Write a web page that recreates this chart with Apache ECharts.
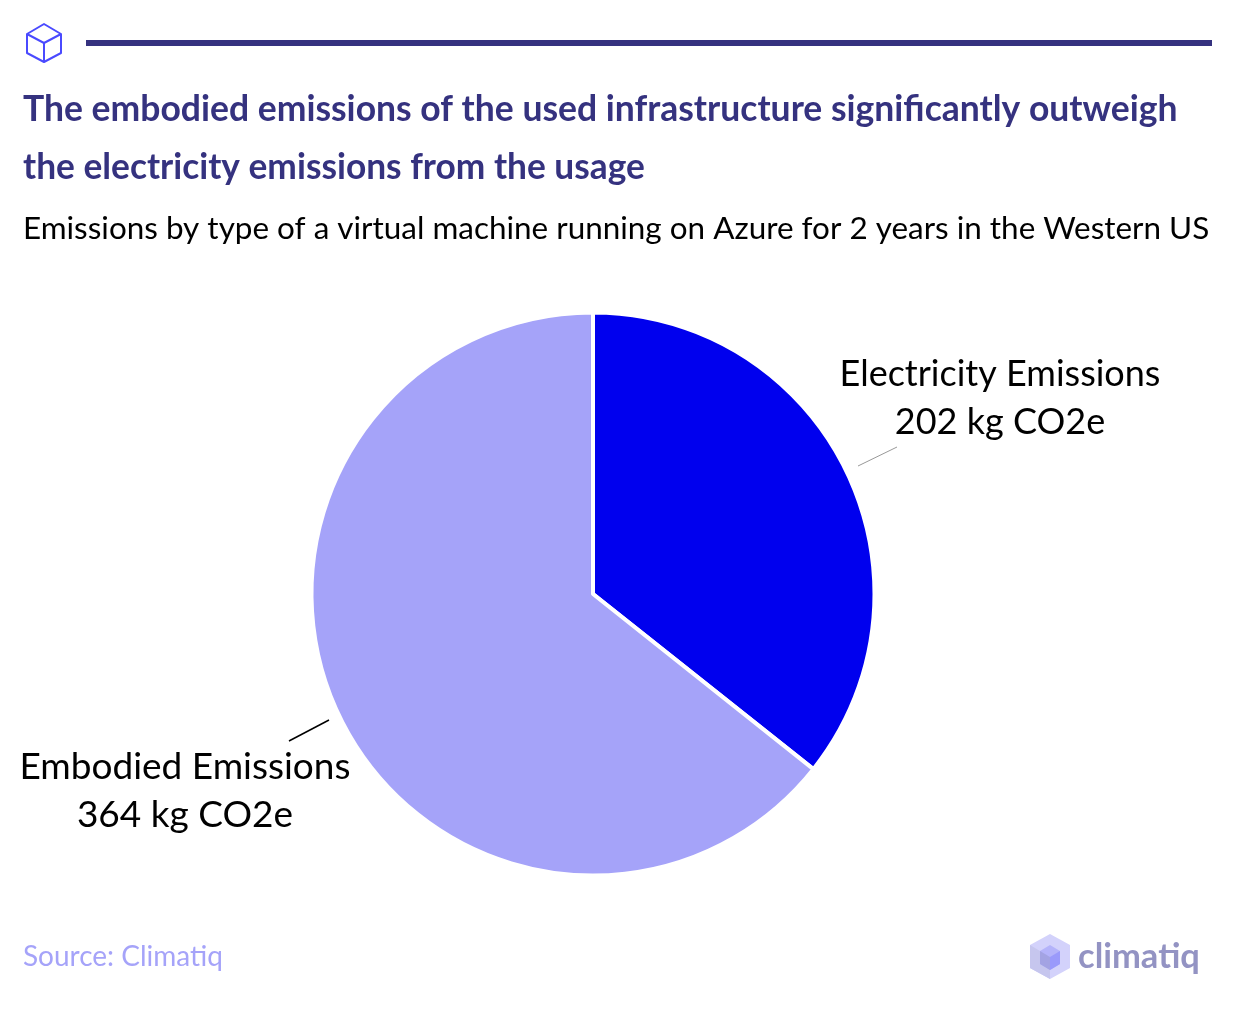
<!DOCTYPE html>
<html><head><meta charset="utf-8">
<style>html,body{margin:0;padding:0;background:#fff}#c{width:1246px;height:1018px}</style>
<script src="https://cdn.jsdelivr.net/npm/echarts@6/dist/echarts.min.js"></script>
</head><body><div id="c"></div>
<script>
const categories = ['Electricity Emissions', 'Embodied Emissions'];
const values = [202, 364];
const unit = 'kg CO2e';
const sliceColors = ['#0000ee', '#a5a3f9'];
const titleLines = ['The embodied emissions of the used infrastructure significantly outweigh', 'the electricity emissions from the usage'];
const subtitle = 'Emissions by type of a virtual machine running on Azure for 2 years in the Western US';
const source = 'Source: Climatiq';
const font = 'Lato';
const navy = '#35327f';

const labelPos = [{x: 1000, y: 398}, {x: 185, y: 791}];
const labelSizes = [36, 37];
const linePts = [[[858, 466], [897, 447]], [[289, 741], [329, 720]]];
const lineCols = ['#999999', '#000000'];
const lineWidths = [1, 1.5];

function poly(points, fill, stroke, lw) {
  return {type: 'polygon', shape: {points}, style: {fill: fill || 'none', stroke: stroke || 'none', lineWidth: lw || 0, lineJoin: 'round'}};
}
function text(x, y, t, size, weight, fill, extra) {
  return {type: 'text', x, y, style: Object.assign({text: t, font: weight + ' ' + size + 'px ' + font, fill, textVerticalAlign: 'middle'}, extra || {})};
}
const c = '#4a4aff';
const graphicEls = [
  {type: 'rect', shape: {x: 86, y: 40, width: 1126, height: 6}, style: {fill: navy}},
  poly([[44, 24], [61, 34], [61, 53], [44, 62], [27, 53], [27, 34]], null, c, 2),
  {type: 'polyline', shape: {points: [[27, 34], [44, 43], [61, 34]]}, style: {stroke: c, lineWidth: 2, fill: 'none'}},
  {type: 'line', shape: {x1: 44, y1: 43, x2: 44, y2: 62}, style: {stroke: c, lineWidth: 2}},
  text(23, 110, titleLines[0], 35.5, 'bold', navy),
  text(23, 168, titleLines[1], 35.3, 'bold', navy),
  text(23, 229, subtitle, 31.45, 'normal', '#000'),
  text(23, 957, source, 28, 'normal', '#a5a3f9'),
  poly([[1050, 934], [1070, 945], [1070, 968], [1050, 979], [1030, 968], [1030, 945]], '#d3d2fb'),
  poly([[1030, 945], [1050, 957], [1050, 979], [1030, 968]], '#c6c6ee'),
  poly([[1050, 945], [1060, 951], [1060, 964], [1050, 970], [1040, 964], [1040, 951]], '#b4b3fa'),
  poly([[1050, 957], [1060, 951], [1060, 964], [1050, 970]], '#9a9afb'),
  poly([[1050, 957], [1050, 970], [1040, 964], [1040, 951]], '#a3a3e3'),
  text(1078, 957, 'climatiq', 34.5, 'bold', '#9393c3'),
];
linePts.forEach((p, i) => graphicEls.push({type: 'line', shape: {x1: p[0][0], y1: p[0][1], x2: p[1][0], y2: p[1][1]}, style: {stroke: lineCols[i], lineWidth: lineWidths[i]}}));

const chart = echarts.init(document.getElementById('c'), null, {renderer: 'canvas'});
chart.setOption({
  animation: false,
  backgroundColor: '#fff',
  graphic: {elements: graphicEls},
  series: [{
    type: 'pie',
    center: [593, 594],
    radius: [0, 281.5],
    startAngle: 90,
    clockwise: true,
    data: categories.map((n, i) => ({name: n, value: values[i], itemStyle: {color: sliceColors[i]}, label: {fontSize: labelSizes[i]}})),
    itemStyle: {borderColor: '#fff', borderWidth: 4},
    label: {show: true, position: 'outside', overflow: 'none', formatter: p => p.name + '\n' + p.value + ' ' + unit, fontFamily: font, lineHeight: 48, color: '#000', align: 'center'},
    labelLine: {show: false},
    labelLayout: p => Object.assign({align: 'center', verticalAlign: 'middle'}, labelPos[p.dataIndex]),
    emphasis: {disabled: true}
  }]
});
</script></body></html>
